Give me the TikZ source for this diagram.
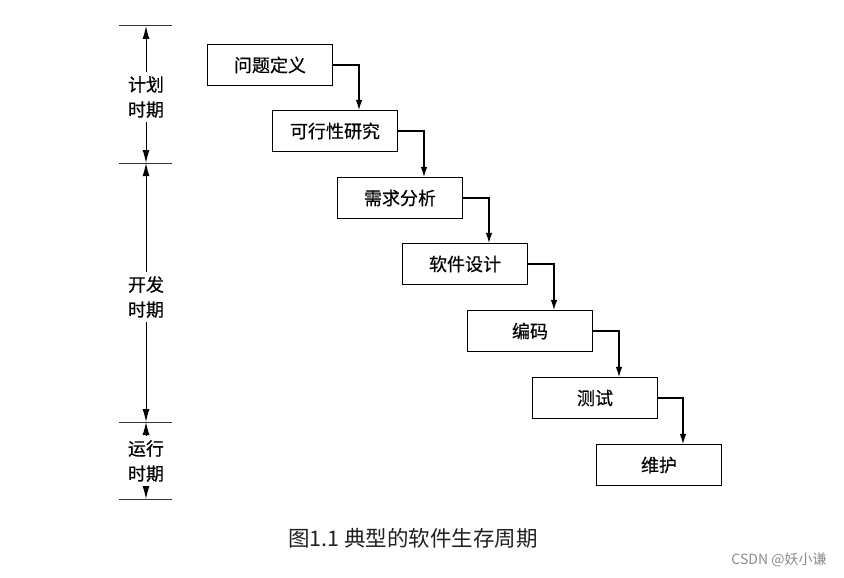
\documentclass[tikz,border=0pt]{standalone}
\usepackage{fontspec}
\usepackage{xcolor}
\usepackage{tikz}
\usetikzlibrary{arrows.meta,positioning,calc}
\newfontfamily\cjk{Noto Sans CJK SC}
\newfontfamily\cjkbox[FakeBold=0.4]{Noto Sans CJK SC}

\begin{document}
\begin{tikzpicture}[x=1pt,y=-1pt,
    stage/.style={draw, line width=1.1pt, minimum width=125pt, minimum height=41pt, inner sep=0pt, font=\cjkbox\fontsize{18}{20}\selectfont},
    flow/.style={line width=1.1pt, -{Latex[length=10pt,width=6.5pt]}},
    period/.style={align=center, inner sep=4pt, font=\cjkbox\fontsize{18}{25}\selectfont},
    span/.style={line width=1pt, -{Latex[length=13pt,width=7pt]}},
    tick/.style={line width=1pt, black!80}]
    \useasboundingbox (0,0) rectangle (844,578);

    % Stages of the life cycle
    \node[stage] (s1) at (270,65) {问题定义};
    \node[stage] (s2) at (335,131) {可行性研究};
    \node[stage] (s3) at (400,198) {需求分析};
    \node[stage] (s4) at (465,264) {软件设计};
    \node[stage] (s5) at (530,331) {编码};
    \node[stage] (s6) at (595,398) {测试};
    \node[stage] (s7) at (659,465) {维护};

    % Flow arrows
    \foreach \a/\b in {s1/s2,s2/s3,s3/s4,s4/s5,s5/s6,s6/s7}
        \draw[flow] (\a.east) -| ([xshift=24pt]\b.north);

    % Time axis
    \coordinate (t1) at (146,26);
    \coordinate (t2) at (146,163);
    \coordinate (t3) at (146,422);
    \coordinate (t4) at (146,499);
    \foreach \t in {t1,t2,t3,t4}
        \draw[tick] ([xshift=-27pt]\t) -- ([xshift=26pt]\t);

    \node[period] (plan) at (146,97) {计划\\时期};
    \node[period] (dev) at (146,297) {开发\\时期};
    \node[period] (run) at (146,461) {运行\\时期};

    \draw[span] (plan.north) -- (t1);
    \draw[span] (plan.south) -- (t2);
    \draw[span] (dev.north) -- (t2);
    \draw[span] (dev.south) -- (t3);
    \draw[span] (run.north) -- (t3);
    \draw[span] (run.south) -- (t4);

    % Caption and watermark
    \node[font=\cjk\fontsize{21.5}{24}\selectfont, text=black!87] (caption) at (413,538) {图1.1 典型的软件生存周期};
    \node[font=\cjk\fontsize{14}{16}\selectfont, text=black!45] (mark) at (779,560) {CSDN @妖小谦};
\end{tikzpicture}
\end{document}
